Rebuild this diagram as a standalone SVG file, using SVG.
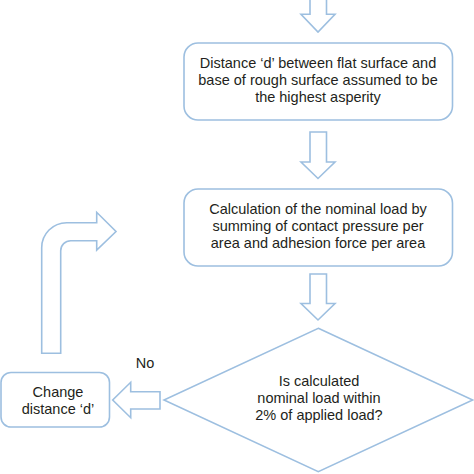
<svg xmlns="http://www.w3.org/2000/svg" width="474" height="474" viewBox="0 0 474 474">
<style>
.s{fill:#ffffff;stroke:#9dbfe0;stroke-width:1.6;stroke-linejoin:miter}
.t{font-family:"Liberation Sans",Arial,sans-serif;font-size:14.5px;fill:#231f20;text-anchor:middle}
</style>
<rect width="474" height="474" fill="#ffffff"/>
<g id="connectors">
<path class="s" d="M310,-2 V14.3 H301 L318,32 L335,14.3 H326.5 V-2"/>
<path class="s" d="M310,132 V162 H301 L318,178.5 L335,162 H326.5 V132 Z"/>
<path class="s" d="M310,274 V303.5 H301 L318,320 L335,303.5 H326.5 V274 Z"/>
<path class="s" d="M160,391.7 H130.7 V382.3 L112.7,400 L130.7,417.7 V409 H160 Z"/>
<path class="s" d="M41.7,353.3 V247.7 A25,25 0 0 1 66.7,222.7 H96.7 V212.3 L116,231.5 L96.7,250 V240.7 H70.7 A10,10 0 0 0 60.7,250.7 V353.3 Z"/>
<text class="t" x="145" y="368">No</text>
</g>
<g id="node-distance">
<rect class="s" x="184" y="43" width="268.5" height="77" rx="14"/>
<text class="t" x="318" y="68">Distance ‘d’ between flat surface and</text>
<text class="t" x="318" y="85">base of rough surface assumed to be</text>
<text class="t" x="318" y="101.5">the highest asperity</text>
</g>
<g id="node-calc">
<rect class="s" x="184" y="189" width="268.5" height="77" rx="14"/>
<text class="t" x="318" y="214">Calculation of the nominal load by</text>
<text class="t" x="318" y="231">summing of contact pressure per</text>
<text class="t" x="318" y="248">area and adhesion force per area</text>
</g>
<g id="node-decision">
<polygon class="s" points="318.3,328.3 472.7,400 318.3,471.7 164,400"/>
<text class="t" x="319" y="386">Is calculated</text>
<text class="t" x="319" y="403">nominal load within</text>
<text class="t" x="319" y="420">2% of applied load?</text>
</g>
<g id="node-change">
<rect class="s" x="1" y="372.5" width="108.5" height="54.5" rx="10"/>
<text class="t" x="58" y="397">Change</text>
<text class="t" x="58" y="413.5">distance ‘d’</text>
</g>
</svg>
